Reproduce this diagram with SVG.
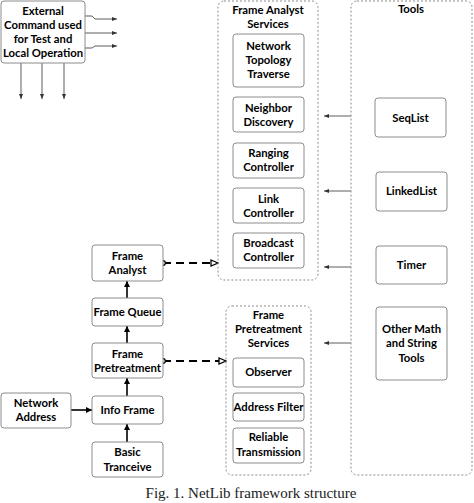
<svg xmlns="http://www.w3.org/2000/svg" width="474" height="503" viewBox="0 0 474 503">
<defs>
<style>
.box{fill:#fff;stroke:#8c8c8c;stroke-width:1}
.grp{fill:none;stroke:#8c8c8c;stroke-width:1;stroke-dasharray:2,2}
text{font-family:Lato,"Open Sans","Liberation Sans",sans-serif;font-weight:bold;font-size:11.3px;fill:#000;text-anchor:middle}
.thin{fill:none;stroke:#333;stroke-width:0.8}
.thick{fill:none;stroke:#000;stroke-width:1.6}
.dash{fill:none;stroke:#000;stroke-width:2;stroke-dasharray:8,5}
.cap{font-family:"Liberation Serif",serif;font-weight:normal;font-size:15px;fill:#222}
</style>
<marker id="sm" markerWidth="5" markerHeight="4" refX="5" refY="2" orient="auto" markerUnits="userSpaceOnUse"><path d="M0,0 L5,2 L0,4 Z" fill="#333"/></marker>
<marker id="tk" markerWidth="6" markerHeight="6" refX="6" refY="3" orient="auto" markerUnits="userSpaceOnUse"><path d="M0,0 L6,3 L0,6 Z" fill="#000"/></marker>
<marker id="op" markerWidth="9" markerHeight="8" refX="8" refY="4" orient="auto" markerUnits="userSpaceOnUse"><path d="M1,1 L8,4 L1,7 Z" fill="#fff" stroke="#000" stroke-width="1.3"/></marker>
<marker id="dot" markerWidth="7" markerHeight="7" refX="3.5" refY="3.5" orient="auto" markerUnits="userSpaceOnUse"><circle cx="3.5" cy="3.5" r="2.3" fill="#fff" stroke="#000" stroke-width="1.2"/></marker>
</defs>

<g id="connectors">
<path class="thin" d="M85,16 H92 L95,19 H117" marker-end="url(#sm)"/>
<path class="thin" d="M85,33 H117" marker-end="url(#sm)"/>
<path class="thin" d="M85,48 H92 L95,46 H117" marker-end="url(#sm)"/>
<path class="thin" d="M21,63 V99" marker-end="url(#sm)"/>
<path class="thin" d="M42,63 V99" marker-end="url(#sm)"/>
<path class="thin" d="M64,63 V99" marker-end="url(#sm)"/>
<path class="thin" d="M351,116 H324" marker-end="url(#sm)"/>
<path class="thin" d="M351,191 H324" marker-end="url(#sm)"/>
<path class="thin" d="M351,267 H324" marker-end="url(#sm)"/>
<path class="thin" d="M351,343 H324" marker-end="url(#sm)"/>
<path class="thick" d="M127,298 V281" marker-end="url(#tk)"/>
<path class="thick" d="M127,343 V326" marker-end="url(#tk)"/>
<path class="thick" d="M127,396 V378" marker-end="url(#tk)"/>
<path class="thick" d="M127,442 V424" marker-end="url(#tk)"/>
<path class="thick" d="M71,410 H92" marker-end="url(#tk)"/>
<path class="dash" d="M163,263 H218" marker-start="url(#dot)" marker-end="url(#op)"/>
<path class="dash" d="M163,361 H226" marker-start="url(#dot)" marker-end="url(#op)"/>
</g>

<g id="external-command">
<rect class="box" x="1" y="1" width="84" height="62" rx="3"/>
<text x="43" y="15">External</text>
<text x="43" y="29">Command used</text>
<text x="43" y="43">for Test and</text>
<text x="43" y="57">Local Operation</text>
</g>

<g id="frame-analyst-services">
<rect class="grp" x="218" y="1" width="100" height="279" rx="6"/>
<text x="268" y="14">Frame Analyst</text>
<text x="268" y="28">Services</text>
</g>
<g id="network-topology">
<rect class="box" x="233" y="34" width="71" height="53" rx="3"/>
<text x="268.5" y="50">Network</text>
<text x="268.5" y="64">Topology</text>
<text x="268.5" y="78">Traverse</text>
</g>
<g id="neighbor-discovery">
<rect class="box" x="233" y="97" width="71" height="35" rx="3"/>
<text x="268.5" y="112">Neighbor</text>
<text x="268.5" y="126">Discovery</text>
</g>
<g id="ranging-controller">
<rect class="box" x="233" y="143" width="71" height="35" rx="3"/>
<text x="268.5" y="157">Ranging</text>
<text x="268.5" y="171">Controller</text>
</g>
<g id="link-controller">
<rect class="box" x="233" y="188" width="71" height="35" rx="3"/>
<text x="268.5" y="203">Link</text>
<text x="268.5" y="217">Controller</text>
</g>
<g id="broadcast-controller">
<rect class="box" x="233" y="233" width="71" height="35" rx="3"/>
<text x="268.5" y="247">Broadcast</text>
<text x="268.5" y="261">Controller</text>
</g>

<g id="tools">
<rect class="grp" x="351" y="1" width="121" height="474" rx="6"/>
<text x="411" y="13">Tools</text>
</g>
<g id="seqlist">
<rect class="box" x="375" y="98" width="71" height="39" rx="3"/>
<text x="410.5" y="122">SeqList</text>
</g>
<g id="linkedlist">
<rect class="box" x="376" y="172" width="71" height="39" rx="3"/>
<text x="411.5" y="195">LinkedList</text>
</g>
<g id="timer">
<rect class="box" x="376" y="246" width="71" height="38" rx="3"/>
<text x="411.5" y="269">Timer</text>
</g>
<g id="other-tools">
<rect class="box" x="376" y="307" width="71" height="73" rx="3"/>
<text x="411.5" y="333">Other Math</text>
<text x="411.5" y="347">and String</text>
<text x="411.5" y="362">Tools</text>
</g>

<g id="frame-pretreatment-services">
<rect class="grp" x="226" y="306" width="85" height="169" rx="6"/>
<text x="268.5" y="319">Frame</text>
<text x="268.5" y="333">Pretreatment</text>
<text x="268.5" y="347">Services</text>
</g>
<g id="observer">
<rect class="box" x="233" y="358" width="71" height="29" rx="3"/>
<text x="268.5" y="376">Observer</text>
</g>
<g id="address-filter">
<rect class="box" x="233" y="393" width="71" height="28" rx="3"/>
<text x="268.5" y="411">Address Filter</text>
</g>
<g id="reliable-transmission">
<rect class="box" x="233" y="428" width="71" height="35" rx="3"/>
<text x="268.5" y="441">Reliable</text>
<text x="268.5" y="456">Transmission</text>
</g>

<g id="frame-analyst">
<rect class="box" x="92" y="245" width="71" height="36" rx="3"/>
<text x="127.5" y="260">Frame</text>
<text x="127.5" y="274">Analyst</text>
</g>
<g id="frame-queue">
<rect class="box" x="92" y="298" width="71" height="28" rx="3"/>
<text x="127.5" y="316">Frame Queue</text>
</g>
<g id="frame-pretreatment">
<rect class="box" x="92" y="343" width="71" height="35" rx="3"/>
<text x="127.5" y="358">Frame</text>
<text x="127.5" y="372">Pretreatment</text>
</g>
<g id="info-frame">
<rect class="box" x="92" y="396" width="71" height="28" rx="3"/>
<text x="127.5" y="414">Info Frame</text>
</g>
<g id="basic-tranceive">
<rect class="box" x="92" y="442" width="71" height="35" rx="3"/>
<text x="127.5" y="456">Basic</text>
<text x="127.5" y="471">Tranceive</text>
</g>
<g id="network-address">
<rect class="box" x="1" y="393" width="70" height="35" rx="3"/>
<text x="36" y="407">Network</text>
<text x="36" y="421">Address</text>
</g>

<text class="cap" x="251" y="498">Fig. 1. NetLib framework structure</text>
</svg>
